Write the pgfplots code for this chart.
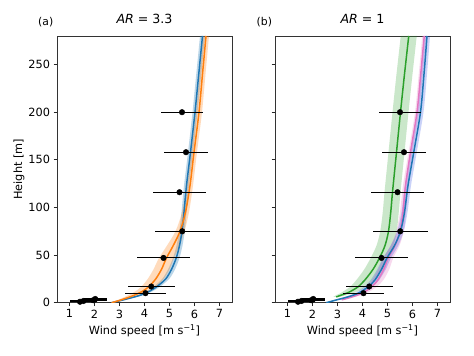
\documentclass[border=0pt]{standalone}
\usepackage{fontspec}
\setmainfont{DejaVu Sans}
\usepackage{pgfplots}
\usepackage{pgfplotstable}
\usepgfplotslibrary{fillbetween}
\pgfplotsset{compat=1.18}
\definecolor{tblue}{HTML}{1F77B4}
\definecolor{torange}{HTML}{FF7F0E}
\definecolor{tgreen}{HTML}{2CA02C}
\definecolor{tpink}{HTML}{E377C2}

% h c w  (height, centre speed, half band width)
\pgfplotstableread{
h c w
0 2.68 0.02
2 3.00 0.05
5 3.45 0.08
8 3.85 0.10
12 4.20 0.12
17 4.50 0.13
25 4.85 0.14
35 5.08 0.14
47 5.27 0.13
60 5.40 0.12
75 5.50 0.11
95 5.58 0.10
123 5.68 0.10
158 5.84 0.10
200 6.02 0.10
240 6.17 0.10
280 6.32 0.10
}\ablue
\pgfplotstableread{
h c w
0 2.68 0.02
2 2.95 0.10
5 3.30 0.18
8 3.60 0.24
12 3.92 0.28
17 4.18 0.30
25 4.45 0.32
35 4.68 0.32
47 4.88 0.30
60 5.15 0.25
75 5.42 0.18
95 5.64 0.14
123 5.82 0.12
158 5.98 0.12
200 6.18 0.12
240 6.32 0.12
280 6.46 0.12
}\aorange
\pgfplotstableread{
h c w
6 2.95 0.12
8 3.15 0.20
10 3.37 0.25
13 3.60 0.30
17 3.84 0.32
24 4.10 0.34
35 4.42 0.35
47 4.68 0.35
60 4.90 0.34
75 5.04 0.33
95 5.13 0.32
116 5.20 0.32
158 5.36 0.32
200 5.52 0.32
240 5.68 0.32
280 5.85 0.32
}\bgreen
\pgfplotstableread{
h c w
3 3.17 0.06
5 3.45 0.10
10 4.00 0.16
17 4.38 0.20
24 4.62 0.22
35 4.85 0.22
47 5.03 0.20
60 5.30 0.18
75 5.50 0.15
95 5.62 0.12
123 5.72 0.10
158 5.92 0.08
200 6.18 0.08
240 6.33 0.08
280 6.47 0.08
}\bpink
\pgfplotstableread{
h c w
0 2.55 0.03
3 2.97 0.07
6 3.40 0.11
10 3.83 0.14
17 4.24 0.16
24 4.50 0.17
35 4.76 0.17
47 4.98 0.16
60 5.28 0.15
75 5.52 0.13
95 5.68 0.12
123 5.82 0.12
158 6.05 0.12
200 6.32 0.12
240 6.46 0.12
280 6.58 0.12
}\bblue
\pgfplotstableread{
x y e
5.50 200 0.83
5.66 158 0.88
5.40 116 1.05
5.51 75 1.09
4.76 47 1.07
4.27 17 0.93
4.04 10 0.82
2.03 3.9 0.47
1.95 2.6 0.55
1.56 1.8 0.54
1.42 1.0 0.40
}\obs

\pgfplotsset{
  panel/.style={
    anchor=south west, scale only axis, width=175pt, height=266.7pt,
    xmin=0.5, xmax=7.5, ymin=0, ymax=280,
    xtick={1,2,3,4,5,6,7}, ytick={0,50,100,150,200,250},
    xtick pos=lower, ytick pos=left,
    tick align=outside, major tick length=3.5pt,
    tick style={black!85, line width=0.7pt},
    axis line style={line width=0.7pt, black!80},
    ticklabel style={font=\fontsize{11.3}{13}\selectfont},
    /pgf/number format/assume math mode=true,
    xlabel={Wind speed [m s\textsuperscript{−1}]},
    label style={font=\fontsize{11.3}{13}\selectfont},
    ylabel style={yshift=-3pt},
    title style={font=\fontsize{12.6}{14}\selectfont, at={(0.5,1)}, anchor=base, yshift=6pt, inner sep=0pt},
  },
}
\newcommand{\obsplot}{%
  \addplot[only marks, mark=*, mark size=2.8pt, black,
    error bars/.cd, x dir=both, x explicit,
    error bar style={black, line width=1.1pt}, error mark=none]
    table[x=x, y=y, x error=e]{\obs};
}

\begin{document}
\begin{tikzpicture}
\begin{axis}[panel, name=pa, at={(57pt,53.3pt)}, ylabel={Height [m]}, title={\itshape AR\upshape\ = 3.3}]
  \addplot[name path=loA, draw=none, smooth, forget plot] table[x expr=\thisrow{c}-\thisrow{w}, y=h]{\ablue};
  \addplot[name path=hiA, draw=none, smooth, forget plot] table[x expr=\thisrow{c}+\thisrow{w}, y=h]{\ablue};
  \addplot[fill=tblue, fill opacity=0.3, draw=none, forget plot] fill between[of=loA and hiA];
  \addplot[name path=loB, draw=none, smooth, forget plot] table[x expr=\thisrow{c}-\thisrow{w}, y=h]{\aorange};
  \addplot[name path=hiB, draw=none, smooth, forget plot] table[x expr=\thisrow{c}+\thisrow{w}, y=h]{\aorange};
  \addplot[fill=torange, fill opacity=0.28, draw=none, forget plot] fill between[of=loB and hiB];
  \addplot[tblue, line width=1.5pt, smooth] table[x=c, y=h]{\ablue};
  \addplot[torange, line width=1.5pt, smooth] table[x=c, y=h]{\aorange};
  \obsplot
\end{axis}
\node[anchor=base west, inner sep=0pt, xshift=-19pt, yshift=10pt, font=\fontsize{10.8}{12}\selectfont] at (pa.north west) {(a)};
\begin{axis}[panel, name=pb, at={(275pt,53.3pt)}, yticklabels={}, title={\itshape AR\upshape\ = 1}]
  \addplot[name path=loC, draw=none, smooth, forget plot] table[x expr=\thisrow{c}-\thisrow{w}, y=h]{\bgreen};
  \addplot[name path=hiC, draw=none, smooth, forget plot] table[x expr=\thisrow{c}+\thisrow{w}, y=h]{\bgreen};
  \addplot[fill=tgreen, fill opacity=0.25, draw=none, forget plot] fill between[of=loC and hiC];
  \addplot[name path=loD, draw=none, smooth, forget plot] table[x expr=\thisrow{c}-\thisrow{w}, y=h]{\bpink};
  \addplot[name path=hiD, draw=none, smooth, forget plot] table[x expr=\thisrow{c}+\thisrow{w}, y=h]{\bpink};
  \addplot[fill=tpink, fill opacity=0.28, draw=none, forget plot] fill between[of=loD and hiD];
  \addplot[name path=loE, draw=none, smooth, forget plot] table[x expr=\thisrow{c}-\thisrow{w}, y=h]{\bblue};
  \addplot[name path=hiE, draw=none, smooth, forget plot] table[x expr=\thisrow{c}+\thisrow{w}, y=h]{\bblue};
  \addplot[fill=blue!60!tblue, fill opacity=0.22, draw=none, forget plot] fill between[of=loE and hiE];
  \addplot[tpink, line width=1.5pt, smooth] table[x=c, y=h]{\bpink};
  \addplot[tblue, line width=1.5pt, smooth] table[x=c, y=h]{\bblue};
  \addplot[tgreen, line width=1.5pt, smooth] table[x=c, y=h]{\bgreen};
  \obsplot
\end{axis}
\node[anchor=base west, inner sep=0pt, xshift=-18.5pt, yshift=10pt, font=\fontsize{10.8}{12}\selectfont] at (pb.north west) {(b)};
\path (0pt,0pt) rectangle (474pt,356pt);
\end{tikzpicture}
\end{document}
